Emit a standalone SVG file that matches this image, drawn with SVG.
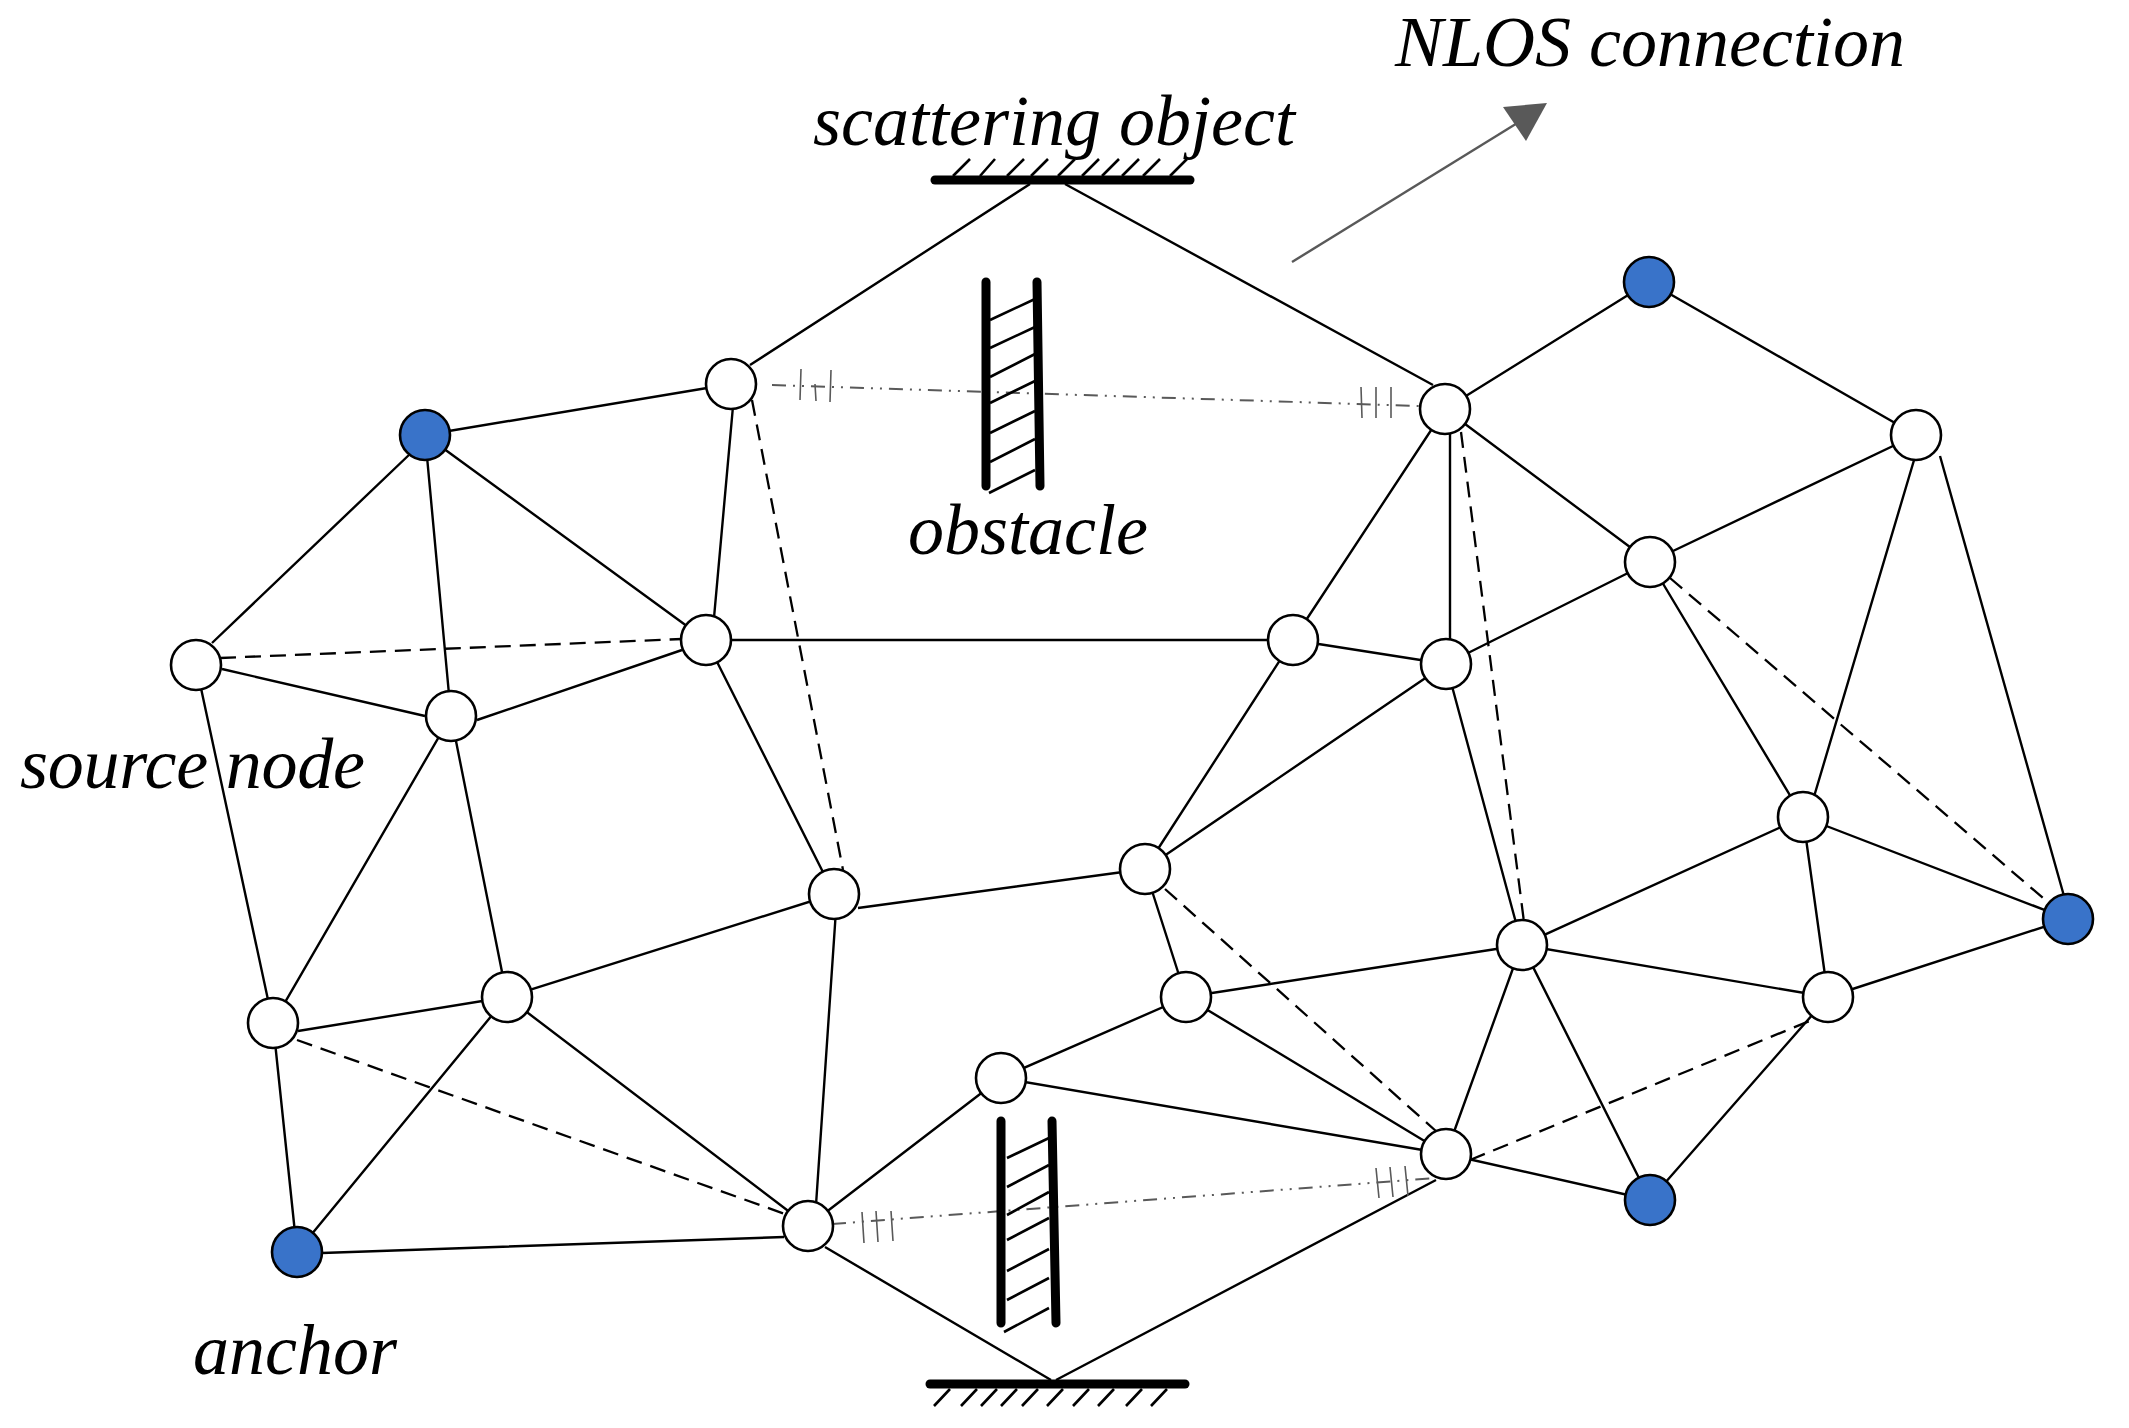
<svg xmlns="http://www.w3.org/2000/svg" width="2129" height="1428" viewBox="0 0 2129 1428">
<defs><style>
.e{stroke:#000;stroke-width:2.4;fill:none}
.d{stroke:#000;stroke-width:2.3;fill:none;stroke-dasharray:16 9}
.n{stroke:#595959;stroke-width:2;fill:none;stroke-dasharray:14 7 2 7 2 7}
.t{stroke:#595959;stroke-width:1.6;fill:none}
.h{stroke:#000;stroke-width:2.6;fill:none}
.b{stroke:#000;stroke-width:9;stroke-linecap:round;fill:none}
circle{stroke:#000;stroke-width:2.6;fill:#fff}
circle.a{fill:#3973c9}
text{font-family:"Liberation Serif","Times New Roman",serif;font-style:italic;font-size:72px;fill:#000}
</style></defs>
<rect width="2129" height="1428" fill="#fff"/>
<g id="connectors">
<g id="solid">
<path class="e" d="M731 384L425 435M411 453L212 643M425 435L451 716M425 435L706 640M735 384L712 640M222 669L425 716M477 720L682 650M196 665L273 1023M451 716L273 1023M451 716L507 997M706 640L1293 640M706 640L834 894M1293 640L1446 664M1293 640L1445 409M1293 640L1145 869M1450 420L1450 650M1446 664L1650 562M1446 664L1145 869M1446 664L1522 945M1445 409L1649 282M1445 409L1650 562M1649 282L1916 435M1916 435L1650 562M1920 440L1813 800M1940 456L2064 896M1650 562L1803 817M1803 817L2068 919M1803 817L1522 945M1803 817L1828 997M1522 945L1828 997M1828 997L2068 919M1828 997L1650 1200M1522 945L1650 1200M1516 960L1446 1154M1522 945L1186 997M1145 869L858 908M1145 869L1186 997M834 894L507 997M836 910L816 1205M507 997L298 1031M507 997L297 1252M507 997L808 1226M273 1023L297 1252M1186 997L1001 1078M1186 997L1446 1154M1001 1078L808 1226M1001 1078L1446 1154M1446 1154L1650 1200M322 1253L784 1237"/>
<path class="e" d="M750 365L1030 184M1433 385L1065 184M825 1247L1051 1380M1436 1180L1056 1380"/>
</g>
<g id="dashed">
<path class="d" d="M752 400L843 870M220 658L682 639M1461 432L1524 922M1670 578L2050 904M1165 889L1437 1132M297 1040L785 1214M1470 1160L1812 1020"/>
</g>
<g id="nlos">
<path class="n" d="M772 385L1420 406M832 1224L1436 1178"/>
<path class="t" d="M801 369L800 400M815 384L816 401M831 370L830 402M1361 387L1362 418M1376 387L1376 418M1391 387L1391 418M862 1212L864 1243M876 1211L878 1242M891 1211L893 1241M1376 1168L1379 1198M1390 1167L1393 1197M1405 1166L1408 1196"/>
</g>
<g id="arrow">
<path d="M1292 262L1519 122" stroke="#595959" stroke-width="2.4" fill="none"/>
<path d="M1547 103L1503 107L1526 141Z" fill="#595959"/>
</g>
</g>
<g id="scatter-top">
<path class="b" d="M935 180H1190"/>
<path class="h" d="M953 176L970 159M980 176L995 159M1007 176L1024 159M1031 176L1048 159M1058 176L1075 159M1082 176L1099 159M1102 176L1119 159M1122 176L1139 159M1143 176L1160 159M1170 176L1187 159"/>
</g>
<g id="scatter-bottom">
<path class="b" d="M930 1384H1185"/>
<path class="h" d="M934 1406L950 1389M961 1406L977 1389M981 1406L997 1389M1001 1406L1017 1389M1022 1406L1038 1389M1047 1406L1063 1389M1073 1406L1089 1389M1098 1406L1114 1389M1126 1406L1142 1389M1151 1406L1167 1389"/>
</g>
<g id="obstacle-top">
<path class="b" d="M986 282V486M1037 282L1040 486"/>
<path class="h" d="M990 320L1035 299M990 348L1035 327M990 377L1035 354M990 403L1035 381M990 433L1035 411M990 462L1035 439M989 493L1035 470"/>
</g>
<g id="obstacle-bottom">
<path class="b" d="M1001 1121V1323M1052 1121L1056 1323"/>
<path class="h" d="M1007 1158L1049 1138M1007 1187L1049 1165M1007 1215L1049 1192M1007 1240L1049 1218M1007 1271L1049 1249M1007 1300L1049 1278M1004 1332L1049 1308"/>
</g>
<g id="n1"><circle cx="731" cy="384" r="25"/></g>
<g id="anchor1"><circle class="a" cx="425" cy="435" r="25"/></g>
<g id="n2"><circle cx="196" cy="665" r="25"/></g>
<g id="n3"><circle cx="451" cy="716" r="25"/></g>
<g id="n4"><circle cx="706" cy="640" r="25"/></g>
<g id="n5"><circle cx="1293" cy="640" r="25"/></g>
<g id="n6"><circle cx="1446" cy="664" r="25"/></g>
<g id="n7"><circle cx="1445" cy="409" r="25"/></g>
<g id="anchor2"><circle class="a" cx="1649" cy="282" r="25"/></g>
<g id="n8"><circle cx="1916" cy="435" r="25"/></g>
<g id="n9"><circle cx="1650" cy="562" r="25"/></g>
<g id="n10"><circle cx="1803" cy="817" r="25"/></g>
<g id="anchor3"><circle class="a" cx="2068" cy="919" r="25"/></g>
<g id="n11"><circle cx="1522" cy="945" r="25"/></g>
<g id="n12"><circle cx="1828" cy="997" r="25"/></g>
<g id="n13"><circle cx="1145" cy="869" r="25"/></g>
<g id="n14"><circle cx="834" cy="894" r="25"/></g>
<g id="n15"><circle cx="1186" cy="997" r="25"/></g>
<g id="n16"><circle cx="507" cy="997" r="25"/></g>
<g id="n17"><circle cx="273" cy="1023" r="25"/></g>
<g id="n18"><circle cx="1001" cy="1078" r="25"/></g>
<g id="n19"><circle cx="1446" cy="1154" r="25"/></g>
<g id="n20"><circle cx="808" cy="1226" r="25"/></g>
<g id="anchor4"><circle class="a" cx="1650" cy="1200" r="25"/></g>
<g id="anchor5"><circle class="a" cx="297" cy="1252" r="25"/></g>
<g id="labels">
<text x="1395" y="66">NLOS connection</text>
<text x="813" y="145">scattering object</text>
<text x="908" y="554">obstacle</text>
<text x="20" y="788" textLength="345">source node</text>
<text x="193" y="1374">anchor</text>
</g>
</svg>
